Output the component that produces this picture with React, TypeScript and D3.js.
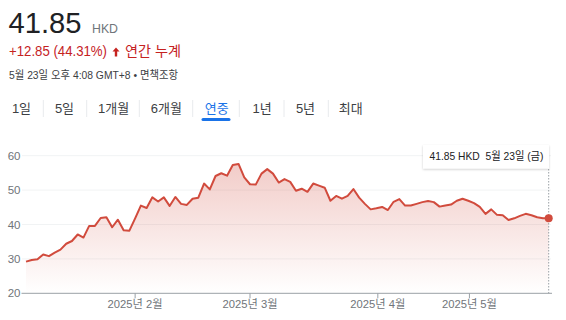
import React from "react";
import * as d3 from "d3";

const prices: number[] = [
  29.2, 29.7, 29.9, 31.3, 30.8, 31.8, 32.7, 34.4, 35.2, 37.1,
  36.2, 39.6, 39.6, 41.9, 42.1, 39.2, 41.4, 38.3, 38.2, 41.8,
  45.5, 44.8, 47.9, 46.7, 47.9, 45.4, 48.0, 46.0, 45.7, 47.5,
  47.8, 51.9, 50.2, 54.1, 54.9, 54.2, 57.3, 57.6, 53.7, 51.7,
  51.6, 54.8, 56.1, 54.8, 52.2, 53.2, 52.4, 49.8, 50.4, 49.5,
  51.9, 51.3, 50.7, 46.9, 48.3, 47.5, 48.3, 50.3, 47.8, 46.0,
  44.4, 44.7, 45.1, 44.2, 46.6, 47.4, 45.5, 45.5, 46.0, 46.5,
  46.8, 46.5, 45.2, 45.5, 45.8, 46.9, 47.5, 46.9, 46.2, 45.1,
  43.1, 44.4, 42.8, 42.7, 41.3, 41.8, 42.5, 43.1, 42.7, 42.1,
  41.8, 41.85,
];
const yTicks: number[] = [20, 30, 40, 50, 60];
const monthLabels: string[] = ["2025년 2월", "2025년 3월", "2025년 4월", "2025년 5월"];
const monthIndex: number[] = [19, 39, 61.25, 77.2];
const tabs: string[] = ["1일", "5일", "1개월", "6개월", "연중", "1년", "5년", "최대"];
const activeTab = "연중";
const lastPrice = "41.85";
const currency = "HKD";
const changeText = "+12.85 (44.31%)";
const changeLabel = "연간 누계";
const timeText = "5월 23일 오후 4:08 GMT+8 • 면책조항";
const tooltipText = "41.85 HKD  5월 23일 (금)";

const FONT = "Arial, 'Liberation Sans', 'Noto Sans CJK KR', sans-serif";

export default function App() {
  const W = 566, H = 320;
  const x = d3.scaleLinear().domain([0, prices.length - 1]).range([26, 548.7]);
  const y = d3.scaleLinear().domain([20, 60]).range([293.3, 155.7]);
  const line = d3.line<number>().x((_, i) => x(i)).y((d) => y(d));
  const area = d3.area<number>().x((_, i) => x(i)).y0(y(20)).y1((d) => y(d));
  const lastI = prices.length - 1;
  const tabCenters = [21.5, 64.5, 113.7, 166.3, 216.7, 262.2, 305.5, 350.8];
  const seps = [43.3, 86.7, 139.3, 192.7, 239.3, 284, 328.3];
  const red = "#d14b3d";
  return (
    <div style={{ position: "absolute", left: 0, top: 0 }}>
      <svg width={W} height={H} style={{ display: "block", fontFamily: FONT }}>
        <defs>
          <linearGradient id="fillG" gradientUnits="userSpaceOnUse" x1={0} x2={0} y1={y(60)} y2={y(20)}>
            <stop offset="0%" stopColor={red} stopOpacity={0.3} />
            <stop offset="100%" stopColor={red} stopOpacity={0.0} />
          </linearGradient>
          <filter id="sh" x="-10%" y="-30%" width="120%" height="170%">
            <feDropShadow dx="0" dy="1" stdDeviation="1.2" floodColor="#000" floodOpacity="0.2" />
          </filter>
        </defs>
        <rect width={W} height={H} fill="#fff" />
        {/* header */}
        <text x={8.5} y={33} fontSize={29} fill="#202124" textLength={73} lengthAdjust="spacingAndGlyphs">{lastPrice}</text>
        <text x={92} y={33} fontSize={13.5} fill="#70757a" textLength={26} lengthAdjust="spacingAndGlyphs">{currency}</text>
        <text x={9} y={56} fontSize={14} fill="#c5221f" textLength={98} lengthAdjust="spacingAndGlyphs">{changeText}</text>
        <path d="M116 47.5 L112.5 51.5 L114.8 51.5 L114.8 56.5 L117.2 56.5 L117.2 51.5 L119.5 51.5 Z" fill="#c5221f" />
        <text x={125} y={56} fontSize={14} fill="#c5221f" textLength={56} lengthAdjust="spacingAndGlyphs">{changeLabel}</text>
        <text x={9} y={79} fontSize={11} fill="#3c4043" textLength={169} lengthAdjust="spacingAndGlyphs">{timeText}</text>
        {/* tabs */}
        {tabs.map((t, i) => (
          <text key={t} x={tabCenters[i]} y={113} fontSize={13} textAnchor="middle" fill={t === activeTab ? "#1a73e8" : "#3c4043"}>{t}</text>
        ))}
        {seps.map((s, i) => (
          <line key={i} x1={s} x2={s} y1={100} y2={117} stroke="#e8eaed" strokeWidth={1} />
        ))}
        <rect x={201.5} y={118} width={29} height={3} rx={1.5} fill="#1a73e8" />
        {/* grid */}
        {yTicks.filter((t) => t !== 20).map((t) => (
          <line key={t} x1={22} x2={551} y1={y(t)} y2={y(t)} stroke="#f1f3f4" strokeWidth={1} />
        ))}
        {yTicks.map((t) => (
          <text key={t} x={20.5} y={y(t) + 4} fontSize={11.5} textAnchor="end" fill="#70757a">{t}</text>
        ))}
        <path d={area(prices) || ""} fill="url(#fillG)" />
        <line x1={21.5} x2={552} y1={y(20)} y2={y(20)} stroke="#9aa0a6" strokeWidth={1} />
        {monthIndex.map((mi, i) => (
          <g key={i}>
            <line x1={x(mi)} x2={x(mi)} y1={y(20)} y2={y(20) + 5} stroke="#9aa0a6" strokeWidth={1} />
            <text x={x(mi)} y={307.5} fontSize={11} textAnchor="middle" fill="#70757a" textLength={55} lengthAdjust="spacingAndGlyphs">{monthLabels[i]}</text>
          </g>
        ))}
        <line x1={x(lastI)} x2={x(lastI)} y1={169} y2={y(20)} stroke="#9aa0a6" strokeWidth={1} strokeDasharray="1.5 1.5" />
        <path d={line(prices) || ""} fill="none" stroke={red} strokeWidth={2} strokeLinejoin="round" />
        <circle cx={x(lastI)} cy={y(prices[lastI])} r={4} fill={red} />
        {/* tooltip */}
        <rect x={423} y={145} width={126} height={23.5} fill="#fff" filter="url(#sh)" />
        <text x={429.5} y={160} fontSize={11} fill="#202124" style={{ whiteSpace: "pre" }} textLength={114} lengthAdjust="spacingAndGlyphs">{tooltipText}</text>
      </svg>
    </div>
  );
}
